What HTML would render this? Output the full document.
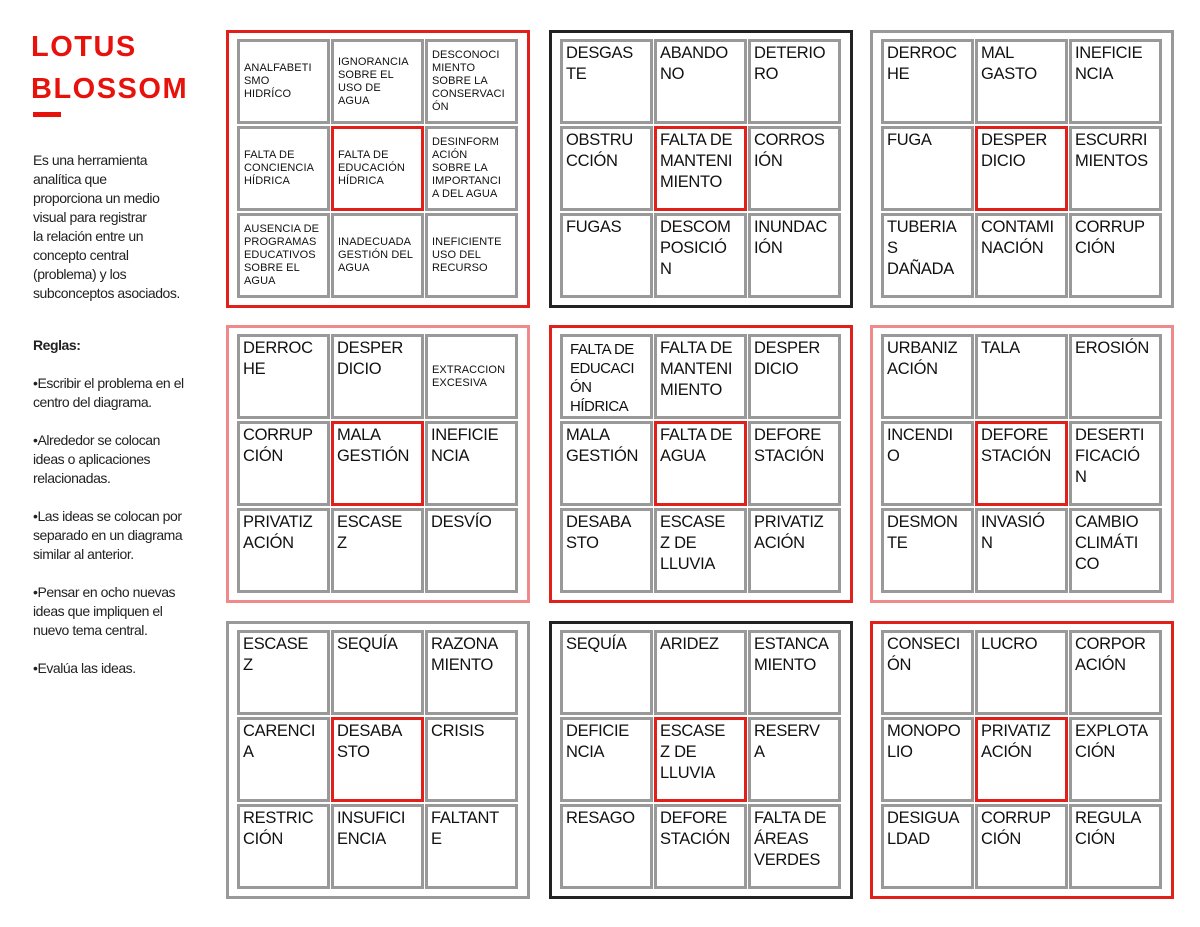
<!DOCTYPE html>
<html><head><meta charset="utf-8"><style>
*{margin:0;padding:0;box-sizing:border-box}
body{width:1200px;height:927px;background:#fff;position:relative;overflow:hidden;font-family:"Liberation Sans",sans-serif;color:#111}
.side{position:absolute;left:33px;font-family:"Liberation Sans Narrow","Liberation Sans",sans-serif;font-size:14px;line-height:19px;color:#222;letter-spacing:-0.45px}
h1{position:absolute;left:31px;top:26px;font:bold 29px/42px "Liberation Sans",sans-serif;color:#e8120c;letter-spacing:1.5px}
.bar{position:absolute;left:33px;top:112px;width:28px;height:5px;background:#e8120c}
.p{position:absolute;width:304px;height:278px;border:3px solid #999}
.c{position:absolute;width:93px;height:85px;border:3px solid #999;font-size:16.5px;line-height:21px;padding:1px 0 0 3px;letter-spacing:-0.3px;white-space:nowrap;overflow:hidden}
.r{border-color:#e0201a}
.s{font-size:11px;line-height:13px;display:flex;align-items:center;padding:0 0 0 4px;letter-spacing:0.1px}
</style></head><body>
<h1>LOTUS<br>BLOSSOM</h1><div class="bar"></div>
<div class="side" style="top:151px">Es una herramienta<br>analítica que<br>proporciona un medio<br>visual para registrar<br>la relación entre un<br>concepto central<br>(problema) y los<br>subconceptos asociados.</div>
<div class="side" style="top:336px"><b>Reglas:</b><br><br>•Escribir el problema en el<br>centro del diagrama.<br><br>•Alrededor se colocan<br>ideas o aplicaciones<br>relacionadas.<br><br>•Las ideas se colocan por<br>separado en un diagrama<br>similar al anterior.<br><br>•Pensar en ocho nuevas<br>ideas que impliquen el<br>nuevo tema central.<br><br>•Evalúa las ideas.</div>
<div id="root"></div>
<script>
const P=[
[226,30,'#e0201a',[['ANALFABETI<br>SMO<br>HIDRÍCO',1],['IGNORANCIA<br>SOBRE EL<br>USO DE<br>AGUA',1],['DESCONOCI<br>MIENTO<br>SOBRE LA<br>CONSERVACI<br>ÓN',1],['FALTA DE<br>CONCIENCIA<br>HÍDRICA',1],['FALTA DE<br>EDUCACIÓN<br>HÍDRICA',1],['DESINFORM<br>ACIÓN<br>SOBRE LA<br>IMPORTANCI<br>A DEL AGUA',1],['AUSENCIA DE<br>PROGRAMAS<br>EDUCATIVOS<br>SOBRE EL<br>AGUA',1],['INADECUADA<br>GESTIÓN DEL<br>AGUA',1],['INEFICIENTE<br>USO DEL<br>RECURSO',1]]],
[549,30,'#222',['DESGAS<br>TE','ABANDO<br>NO','DETERIO<br>RO','OBSTRU<br>CCIÓN','FALTA DE<br>MANTENI<br>MIENTO','CORROS<br>IÓN','FUGAS','DESCOM<br>POSICIÓ<br>N','INUNDAC<br>IÓN']],
[870,30,'#999',['DERROC<br>HE','MAL<br>GASTO','INEFICIE<br>NCIA','FUGA','DESPER<br>DICIO','ESCURRI<br>MIENTOS','TUBERIA<br>S<br>DAÑADA','CONTAMI<br>NACIÓN','CORRUP<br>CIÓN']],
[226,325,'#f08a8a',['DERROC<br>HE','DESPER<br>DICIO',['EXTRACCION<br>EXCESIVA',1],'CORRUP<br>CIÓN','MALA<br>GESTIÓN','INEFICIE<br>NCIA','PRIVATIZ<br>ACIÓN','ESCASE<br>Z','DESVÍO']],
[549,325,'#e0201a',['<div style="font-size:15px;line-height:19px;padding:3px 0 0 7px;letter-spacing:-0.5px">FALTA DE<br>EDUCACI<br>ÓN<br>HÍDRICA</div>','FALTA DE<br>MANTENI<br>MIENTO','DESPER<br>DICIO','MALA<br>GESTIÓN','FALTA DE<br>AGUA','DEFORE<br>STACIÓN','DESABA<br>STO','ESCASE<br>Z DE<br>LLUVIA','PRIVATIZ<br>ACIÓN']],
[870,325,'#f08a8a',['URBANIZ<br>ACIÓN','TALA','EROSIÓN','INCENDI<br>O','DEFORE<br>STACIÓN','DESERTI<br>FICACIÓ<br>N','DESMON<br>TE','INVASIÓ<br>N','CAMBIO<br>CLIMÁTI<br>CO']],
[226,621,'#999',['ESCASE<br>Z','SEQUÍA','RAZONA<br>MIENTO','CARENCI<br>A','DESABA<br>STO','CRISIS','RESTRIC<br>CIÓN','INSUFICI<br>ENCIA','FALTANT<br>E']],
[549,621,'#222',['SEQUÍA','ARIDEZ','ESTANCA<br>MIENTO','DEFICIE<br>NCIA','ESCASE<br>Z DE<br>LLUVIA','RESERV<br>A','RESAGO','DEFORE<br>STACIÓN','FALTA DE<br>ÁREAS<br>VERDES']],
[870,621,'#e0201a',['CONSECI<br>ÓN','LUCRO','CORPOR<br>ACIÓN','MONOPO<br>LIO','PRIVATIZ<br>ACIÓN','EXPLOTA<br>CIÓN','DESIGUA<br>LDAD','CORRUP<br>CIÓN','REGULA<br>CIÓN']]];
let h='';
for(const [x,y,col,cells] of P){
 h+=`<div class="p" style="left:${x}px;top:${y}px;border-color:${col}"></div>`;
 cells.forEach((c,i)=>{
  const cx=x+11+(i%3)*94, cy=y+9+Math.floor(i/3)*87;
  const small=Array.isArray(c); const t=small?c[0]:c;
  const pad=t.startsWith('<div')?';padding:0':'';
  h+=`<div class="c${i==4?' r':''}${small?' s':''}" style="left:${cx}px;top:${cy}px${pad}">${small?'<div>'+t+'</div>':t}</div>`;
 });
}
document.getElementById('root').innerHTML=h;
</script>
</body></html>
